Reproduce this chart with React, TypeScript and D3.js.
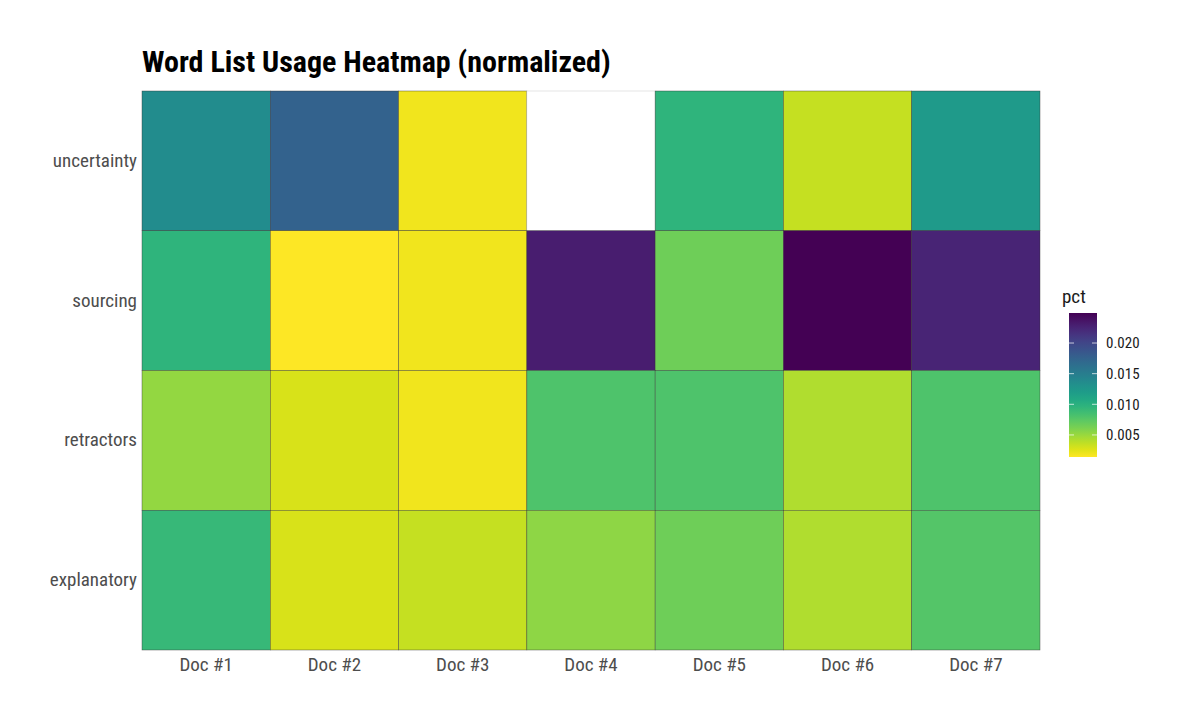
import { useEffect, useRef } from "react";
import * as d3 from "d3";

const docs = ["Doc #1", "Doc #2", "Doc #3", "Doc #4", "Doc #5", "Doc #6", "Doc #7"];
const wordLists = ["uncertainty", "sourcing", "retractors", "explanatory"];

// pct per word list, one value per doc (null = no data)
const uncertainty = [0.0136, 0.0176, 0.0019, null, 0.0096, 0.0035, 0.0122];
const sourcing = [0.0096, 0.0014, 0.0019, 0.023, 0.0066, 0.0249, 0.0226];
const retractors = [0.0052, 0.0028, 0.0019, 0.008, 0.008, 0.0042, 0.008];
const explanatory = [0.0092, 0.0028, 0.0035, 0.0054, 0.0066, 0.0042, 0.0077];

const legendTicks = [0.005, 0.01, 0.015, 0.02];

const FONT = "'Roboto Condensed', 'Liberation Sans Narrow', 'DejaVu Sans Condensed', Roboto, sans-serif";

const App = () => {
  const svgRef = useRef<SVGSVGElement>(null);

  useEffect(() => {
    if (!svgRef.current) return;
    const width = 1200;
    const height = 720;
    const margin = { top: 91, right: 160, bottom: 70, left: 142 };

    const rows: Record<string, (number | null)[]> = { uncertainty, sourcing, retractors, explanatory };
    const cells = wordLists.flatMap((w) => docs.map((d, i) => ({ word: w, doc: d, value: rows[w][i] })));

    const svg = d3.select(svgRef.current);
    svg.selectAll("*").remove();
    svg.attr("width", width).attr("height", height).style("font-family", FONT);

    const x = d3.scaleBand().domain(docs).range([margin.left, width - margin.right]);
    const y = d3.scaleBand().domain(wordLists).range([margin.top, height - margin.bottom]);

    const values = cells.map((c) => c.value).filter((v): v is number => v != null);
    const extent = d3.extent(values) as [number, number];
    const color = d3.scaleSequential((t) => d3.interpolateViridis(1 - t)).domain(extent);

    // Tiles
    svg
      .append("g")
      .selectAll("rect")
      .data(cells)
      .join("rect")
      .attr("x", (d) => x(d.doc)!)
      .attr("y", (d) => y(d.word)!)
      .attr("width", x.bandwidth())
      .attr("height", y.bandwidth())
      .attr("fill", (d) => (d.value == null ? "#ffffff" : color(d.value)))
      .attr("stroke", (d) => (d.value == null ? "#bbbbbb" : "#333333"))
      .attr("stroke-width", 0.5)
      .attr("stroke-opacity", 0.8);

    // Axes
    const xAxis = svg
      .append("g")
      .attr("transform", `translate(0,${height - margin.bottom})`)
      .call(d3.axisBottom(x).tickSize(0).tickPadding(8));
    xAxis.select(".domain").remove();
    xAxis.selectAll("text").attr("fill", "#4d4d4d").attr("font-size", "19px").style("font-family", FONT);

    const yAxis = svg
      .append("g")
      .attr("transform", `translate(${margin.left},0)`)
      .call(d3.axisLeft(y).tickSize(0).tickPadding(5));
    yAxis.select(".domain").remove();
    yAxis.selectAll("text").attr("fill", "#4d4d4d").attr("font-size", "19px").style("font-family", FONT);

    // Title
    svg
      .append("text")
      .attr("x", margin.left)
      .attr("y", 72)
      .attr("font-size", "30px")
      .attr("font-weight", "bold")
      .attr("fill", "#000")
      .text("Word List Usage Heatmap (normalized)");

    // Legend
    const lx = 1069;
    const lw = 28;
    const ly = d3.scaleLinear().domain(extent).range([457, 313]);
    const defs = svg.append("defs");
    const grad = defs
      .append("linearGradient")
      .attr("id", "pct-grad")
      .attr("x1", 0)
      .attr("y1", 1)
      .attr("x2", 0)
      .attr("y2", 0);
    d3.range(0, 1.0001, 0.05).forEach((t) => {
      grad
        .append("stop")
        .attr("offset", t)
        .attr("stop-color", color(extent[0] + t * (extent[1] - extent[0])));
    });
    svg
      .append("rect")
      .attr("x", lx)
      .attr("y", ly(extent[1]))
      .attr("width", lw)
      .attr("height", ly(extent[0]) - ly(extent[1]))
      .attr("fill", "url(#pct-grad)");

    const lt = svg.append("g");
    legendTicks.forEach((v) => {
      const ty = ly(v);
      lt.append("line").attr("x1", lx).attr("x2", lx + 5).attr("y1", ty).attr("y2", ty).attr("stroke", "#ffffff").attr("stroke-opacity", 0.7);
      lt.append("line").attr("x1", lx + lw - 5).attr("x2", lx + lw).attr("y1", ty).attr("y2", ty).attr("stroke", "#ffffff").attr("stroke-opacity", 0.7);
      lt.append("text")
        .attr("x", lx + lw + 9)
        .attr("y", ty)
        .attr("dy", "0.35em")
        .attr("font-size", "15px")
        .attr("fill", "#1a1a1a")
        .text(d3.format(".3f")(v));
    });

    svg
      .append("text")
      .attr("x", 1062)
      .attr("y", 303)
      .attr("font-size", "19px")
      .attr("fill", "#1a1a1a")
      .text("pct");
  }, []);

  return (
    <div style={{ width: 1200, height: 720 }}>
      <svg ref={svgRef} style={{ display: "block", marginTop: -8, marginLeft: -8 }} />
    </div>
  );
};

export default App;
